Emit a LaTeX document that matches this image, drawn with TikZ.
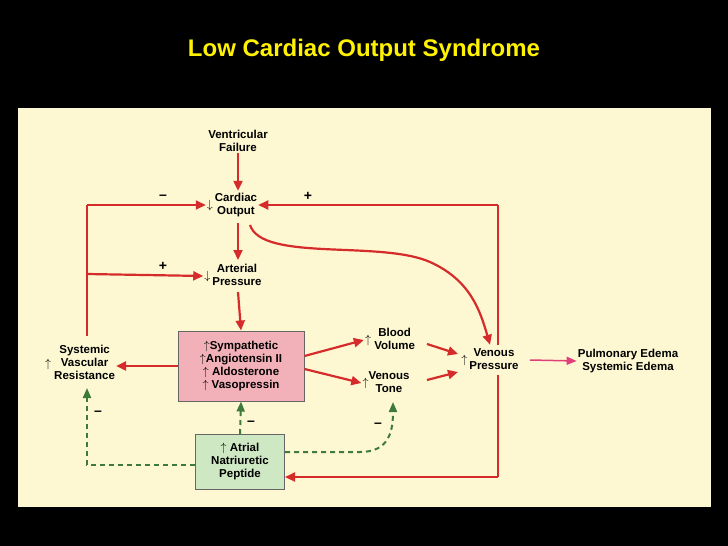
\documentclass[tikz,border=0pt]{standalone}
\usepackage{fontspec}
\setmainfont{Liberation Sans}
\usetikzlibrary{arrows.meta}
\definecolor{cream}{HTML}{FDF8D2}
\definecolor{rd}{HTML}{D62B2B}
\definecolor{gr}{HTML}{3E7A3A}
\definecolor{pinkbox}{HTML}{F2B1B8}
\definecolor{greenbox}{HTML}{CFE8C4}
\definecolor{edge}{HTML}{E0407A}
\begin{document}
\begin{tikzpicture}[x=1pt,y=-1pt,
  lbl/.style={font=\fontsize{11.5}{13}\selectfont\bfseries,align=center,inner sep=1pt},
  ra/.style={draw=rd,line width=2.2pt,-{Triangle[length=10pt,width=9pt]}},
  rl/.style={draw=rd,line width=2.2pt},
  ga/.style={draw=gr,line width=2pt,dash pattern=on 5pt off 4pt,-{Triangle[length=10pt,width=8pt]}},
  sgn/.style={font=\fontsize{14}{14}\selectfont\bfseries}]
\fill[black] (0,0) rectangle (728,546);
\useasboundingbox (0,0) rectangle (728,546);
\node[font=\fontsize{24}{28}\selectfont\bfseries,text=yellow] (title) at (364,50) {Low Cardiac Output Syndrome};
\fill[cream] (18,108) rectangle (711,507);

\node[lbl] (VF) at (238,141) {Ventricular\\Failure};
\node[lbl] (CO) at (232,205) {$\downarrow$\,\begin{tabular}{@{}c@{}}Cardiac\\Output\end{tabular}};
\node[lbl] (AP) at (233,276) {$\downarrow$\,\begin{tabular}{@{}c@{}}Arterial\\Pressure\end{tabular}};
\node[lbl,draw=gray!80!black,line width=1pt,fill=pinkbox,minimum width=126pt,minimum height=70pt] (P) at (241,366) {$\uparrow$Sympathetic\\$\uparrow$Angiotensin II\\$\uparrow$ Aldosterone\\$\uparrow$ Vasopressin};
\node[lbl] (SVR) at (80,364) {$\uparrow$\ \begin{tabular}{@{}c@{}}Systemic\\Vascular\\Resistance\end{tabular}};
\node[lbl] (BV) at (390,340) {$\uparrow$\ \begin{tabular}{@{}c@{}}Blood\\Volume\end{tabular}};
\node[lbl] (VT) at (386,383) {$\uparrow$\begin{tabular}{@{}c@{}}Venous\\Tone\end{tabular}};
\node[lbl,draw=gray!80!black,line width=1pt,fill=greenbox,minimum width=89pt,minimum height=55pt] (ANP) at (240,462) {$\uparrow$ Atrial\\Natriuretic\\Peptide};
\node[lbl] (PE) at (628,361) {Pulmonary Edema\\Systemic Edema};

\coordinate (rt) at (498,205);
\coordinate (rb) at (498,477);
\draw[rl] (rt) -- (rb);
\draw[ra] (rt) -- (CO.east);
\draw[ra] (rb) -- (ANP.east |- rb);
\node[lbl,fill=cream,inner sep=2pt] (VP) at (490,360) {$\uparrow$\,\begin{tabular}{@{}c@{}}Venous\\Pressure\end{tabular}};

\draw[ra] (VF) -- (VF.south |- CO.north);
\draw[ra] (238,223) -- (238,260);
\draw[ra] (238,292) -- (P.north);
\draw[ra] (P.west) -- (SVR.east |- P.west);
\coordinate (sv) at (87,205);
\coordinate (sa) at (87,274);
\draw[rl] (87,336) -- (sv);
\draw[ra] (sv) -- (CO.west);
\draw[ra] (sa) -- (AP.west);
\draw[ra] (250,225) .. controls (262,262) and (380,240) .. (430,262) .. controls (470,280) and (480,310) .. (VP.north);
\draw[ra] (P.east |- 0,356) -- (BV.west);
\draw[ra] (P.east |- 0,369) -- (VT.west);
\draw[ra] (427,344) -- (458,354);
\draw[ra] (427,380) -- (458,372);
\draw[-{Triangle[length=10pt,width=8pt]},edge,line width=1.5pt] (530,360) -- (PE.west);

\draw[ga] (ANP.west |- 0,465) -- (87,465) -- (87,388);
\draw[ga] (ANP.north) -- (P.south);
\draw[ga] (ANP.east |- 0,452) -- (360,452) .. controls (390,452) and (393,430) .. (393,402);

\node[sgn] (m1) at (163,197) {--};
\node[sgn] (p1) at (163,266) {+};
\node[sgn] (p2) at (308,196) {+};
\node[sgn] (m2) at (98,413) {--};
\node[sgn] (m3) at (251,423) {--};
\node[sgn] (m4) at (378,425) {--};
\end{tikzpicture}
\end{document}
